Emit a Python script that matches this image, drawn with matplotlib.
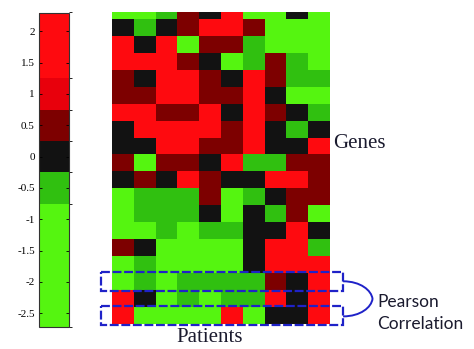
import numpy as np
import matplotlib
matplotlib.use("Agg")
import matplotlib.pyplot as plt
from matplotlib.colors import ListedColormap, BoundaryNorm
from matplotlib.patches import Rectangle, PathPatch
from matplotlib.path import Path

# expression levels, one row per gene (top row is cut by the frame), one column per patient
R, D, K, G, L = 1.5, 0.5, 0.0, -0.5, -1.5
expr = [
    [L, L, G, D, K, R, L, L, K, L],
    [K, G, K, D, R, R, D, L, L, L],
    [R, K, R, L, D, D, G, L, L, L],
    [R, R, R, D, K, L, G, D, G, L],
    [D, K, R, R, D, K, R, D, G, G],
    [D, D, R, R, D, D, R, K, L, L],
    [R, R, D, D, R, K, R, D, K, G],
    [K, R, R, R, R, D, R, K, G, K],
    [K, K, R, R, D, D, R, K, K, R],
    [D, L, D, D, K, R, G, G, D, D],
    [K, D, K, R, D, K, K, R, R, D],
    [L, G, G, G, D, L, G, K, D, D],
    [L, G, G, G, K, L, K, G, D, L],
    [L, L, G, L, G, G, K, K, R, K],
    [D, K, L, L, L, L, K, R, R, G],
    [L, G, L, L, L, L, K, R, R, R],
    [L, G, L, G, G, G, G, D, K, R],
    [R, K, L, G, L, G, G, R, K, R],
    [R, L, L, L, L, R, L, K, K, R],
]
level_edges = [-2.72, -0.75, -0.25, 0.25, 0.75, 1.25, 2.3]
level_colors = ["#55f510", "#30c010", "#121212", "#7d0000", "#e8000c", "#fe0a0f"]
cbar_ticks = [2, 1.5, 1, 0.5, 0, -0.5, -1, -1.5, -2, -2.5]
pearson_rows = [16, 18]

W, H = 474, 349
fig = plt.figure(figsize=(W / 100, H / 100), dpi=100)

def fx(px):
    return px / W

def fy(py):
    return 1 - py / H

cmap = ListedColormap(level_colors)
norm = BoundaryNorm(level_edges, cmap.N)

ax = fig.add_axes([fx(112), fy(324), fx(330) - fx(112), fy(12) - fy(324)])
data = np.array(expr)
im = ax.imshow(data, cmap=cmap, norm=norm, aspect="auto", interpolation="nearest")
ax.set_ylim(len(expr) - 0.5, 0.09)
ax.axis("off")

# colour bar
cax = fig.add_axes([fx(39), fy(327), fx(69) - fx(39), fy(12.5) - fy(327)])
cb = fig.colorbar(im, cax=cax, spacing="proportional", ticks=cbar_ticks)
cb.ax.set_yticklabels([f"{t:g}" for t in cbar_ticks], family="Liberation Serif", fontsize=8)
cb.ax.tick_params(left=True, right=True, labelleft=True, labelright=False,
                  direction="in", length=2.5, width=0.6, pad=3)
cb.outline.set_linewidth(0.8)
cb.outline.set_edgecolor("#333333")

# dashed boxes around the correlated rows
blue = "#1f22c8"
for r in pearson_rows:
    ax.add_patch(Rectangle((-1.0, r - 0.57), 11.1, 1.12, fill=False, edgecolor=blue,
                           linewidth=1.6, linestyle=(0, (4, 1.2)), clip_on=False))

y1 = pearson_rows[0] - 0.02
y2 = pearson_rows[1] + 0.05
ym = (y1 + y2) / 2
verts = [(10.1, y1), (10.9, y1), (11.4, ym - 0.5), (11.45, ym),
         (11.4, ym + 0.5), (10.9, y2), (10.1, y2)]
codes = [Path.MOVETO] + [Path.CURVE4] * 6
ax.add_patch(PathPatch(Path(verts, codes), fill=False, edgecolor=blue,
                       linewidth=1.4, clip_on=False))

txt = "#1a1a2e"
fig.text(fx(333), fy(143), "Genes", ha="left", va="center",
         family="Liberation Serif", fontsize=15, color=txt)
fig.text(fx(210), fy(338), "Patients", ha="center", va="center",
         family="Liberation Serif", fontsize=15, color=txt)
fig.text(fx(377), fy(302), "Pearson", ha="left", va="center",
         family="Lato", fontsize=12.5, color=txt)
fig.text(fx(377), fy(324), "Correlation", ha="left", va="center",
         family="Lato", fontsize=12.5, color=txt)

fig.savefig("out.png", dpi=100)
